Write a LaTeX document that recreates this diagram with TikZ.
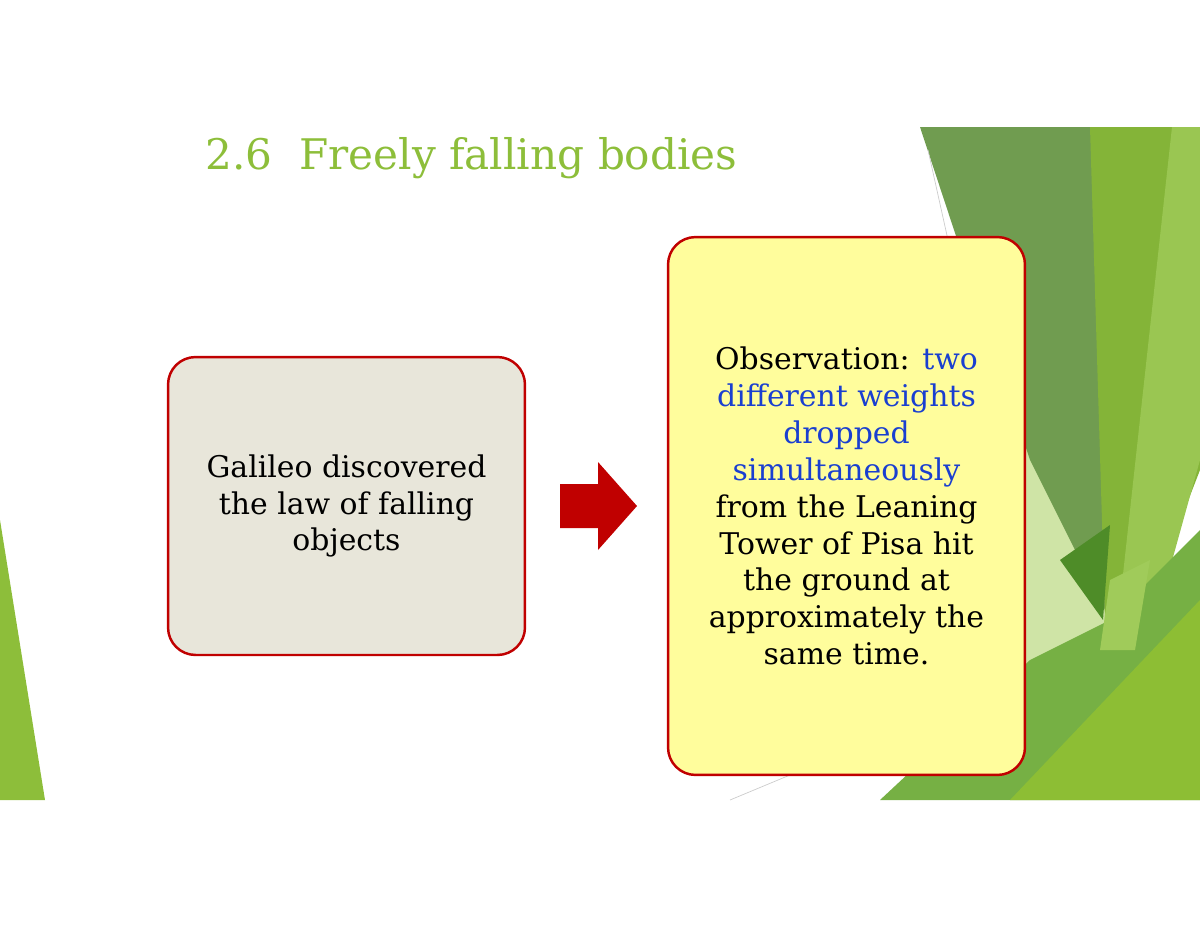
\documentclass[tikz,border=0pt]{standalone}
\usepackage{fontspec}
\setmainfont{DejaVu Serif}
\definecolor{boxred}{HTML}{C00000}
\definecolor{titlegreen}{HTML}{8DBE3A}
\definecolor{obsblue}{HTML}{1A3FD0}
\begin{document}
\begin{tikzpicture}[x=0.02cm,y=-0.02cm,
  card/.style={draw=boxred,line width=1.4pt,rounded corners=0.55cm,align=center,font=\fontsize{17}{21}\selectfont},
  deco/.style={draw=none}]
\useasboundingbox (0,0) rectangle (1200,927);
% right decoration
\fill[deco,fill={rgb,255:red,207;green,228;blue,166}] (1000,380) -- (1120,380) -- (1120,660) -- (1010,680) -- cycle;
\fill[deco,fill={rgb,255:red,112;green,156;blue,80}] (920,127) -- (1095,127) -- (1110,620) -- (1030,460) -- cycle;
\fill[deco,fill={rgb,255:red,132;green,180;blue,56}] (1090,127) -- (1200,127) -- (1200,470) -- (1130,650) -- (1105,620) -- cycle;
\fill[deco,fill={rgb,255:red,154;green,198;blue,82}] (1172,127) -- (1200,127) -- (1200,460) -- (1150,640) -- (1118,620) -- cycle;
\fill[deco,fill={rgb,255:red,78;green,140;blue,40}] (1060,560) -- (1110,525) -- (1103,620) -- cycle;
\fill[deco,fill={rgb,255:red,118;green,176;blue,68}] (880,800) -- (1030,660) -- (1110,620) -- (1200,530) -- (1200,800) -- cycle;
\fill[deco,fill={rgb,255:red,160;green,203;blue,90}] (1110,580) -- (1150,560) -- (1135,650) -- (1100,650) -- cycle;
\fill[deco,fill={rgb,255:red,141;green,190;blue,52}] (1010,800) -- (1200,600) -- (1200,800) -- cycle;
\draw[gray!40,line width=0.4pt] (928,150) -- (968,330);
\draw[gray!40,line width=0.4pt] (730,800) -- (790,775);
% left decoration
\fill[deco,fill=titlegreen] (0,520) -- (45,800) -- (0,800) -- cycle;
% title
\node[anchor=west,text=titlegreen,font=\fontsize{24}{28}\selectfont,inner sep=0pt] (title) at (205,158) {2.6\ \ Freely falling bodies};
% boxes
\node[card,fill={rgb,255:red,232;green,230;blue,218},minimum width=7.14cm,minimum height=5.96cm] (left) at (346.5,506) {Galileo discovered\\the law of falling\\objects};
\node[card,fill={rgb,255:red,255;green,253;blue,156},minimum width=7.14cm,minimum height=10.76cm] (right) at (846.5,506) {Observation: \textcolor{obsblue}{two}\\\textcolor{obsblue}{different weights}\\\textcolor{obsblue}{dropped}\\\textcolor{obsblue}{simultaneously}\\from the Leaning\\Tower of Pisa hit\\the ground at\\approximately the\\same time.};
% arrow
\coordinate (a) at (560,506);
\fill[boxred] (560,484) -- (598,484) -- (598,462) -- (637,506) -- (598,550) -- (598,528) -- (560,528) -- cycle;
\end{tikzpicture}
\end{document}
